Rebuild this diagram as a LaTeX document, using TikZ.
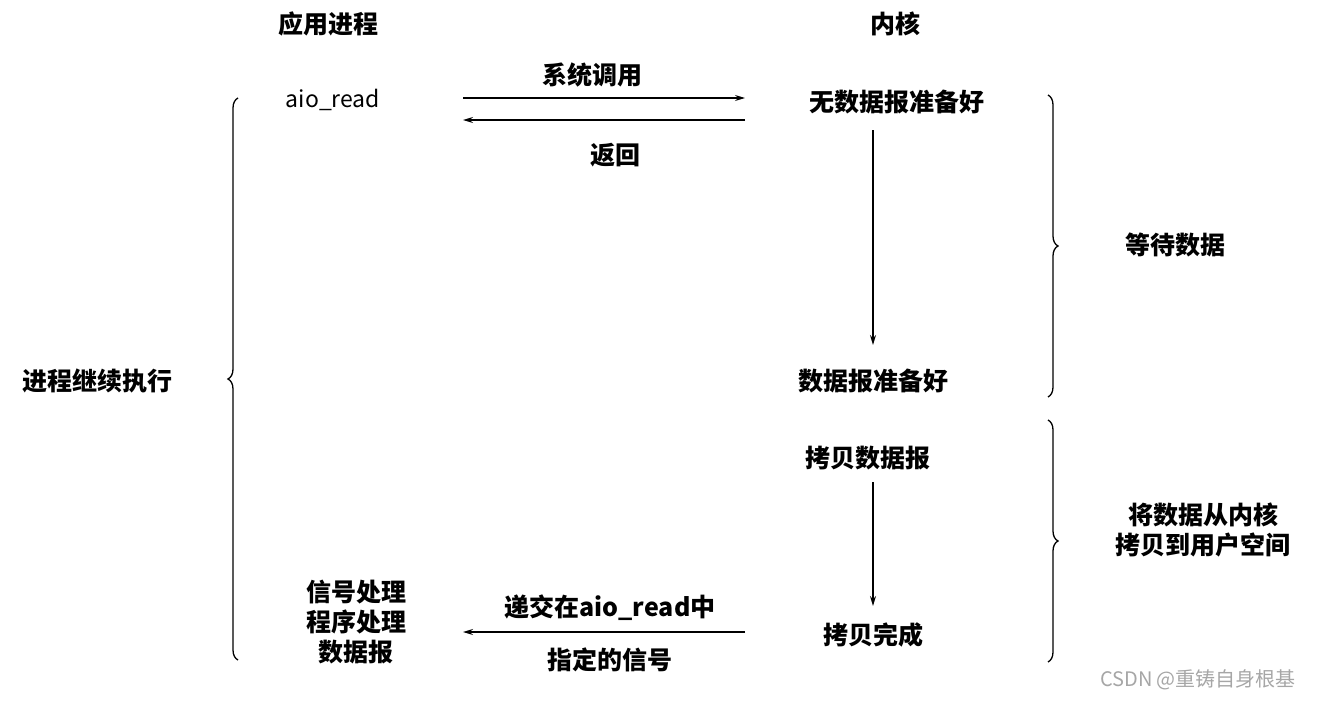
\documentclass[tikz,border=0pt]{standalone}
\usepackage{fontspec}
\setmainfont{Noto Sans CJK SC}
\usetikzlibrary{decorations.pathreplacing,arrows.meta}
\begin{document}
\begin{tikzpicture}[x=1pt,y=-1pt,
  txt/.style={font=\fontsize{25}{30}\selectfont\bfseries,inner sep=0pt,align=center},
  hd/.style={font=\fontsize{25}{30}\selectfont\bfseries,inner sep=0pt},
  arr/.style={-{Stealth[length=10pt,width=6pt]},line width=1.3pt},
  br/.style={decorate,decoration={brace,amplitude=10pt},line width=1.3pt}]
\useasboundingbox (0,0) rectangle (1326,701);
\node[hd] (h1) at (328,24) {应用进程};
\node[hd] (h2) at (895,24) {内核};
\node[txt,font=\fontsize{23}{28}\selectfont] (aio) at (333,100) {aio\_read};
\coordinate (c1) at (463,98); \coordinate (c2) at (745,98);
\coordinate (c3) at (745,120); \coordinate (c4) at (463,120);
\draw[arr] (c1) -- (c2);
\draw[arr] (c3) -- (c4);
\node[txt] (l1) at (592,75) {系统调用};
\node[txt] (l2) at (615,155) {返回};
\node[txt] (k1) at (897,102) {无数据报准备好};
\node[txt] (k2) at (873,381) {数据报准备好};
\draw[arr] (873,130) -- (873,345);
\node[txt] (k3) at (868,458) {拷贝数据报};
\node[txt] (k4) at (873,635) {拷贝完成};
\draw[arr] (873,482) -- (873,606);
\node[txt] (sig) at (356,622) {信号处理\\程序处理\\数据报};
\coordinate (c5) at (745,632); \coordinate (c6) at (463,632);
\draw[arr] (c5) -- (c6);
\node[txt] (l3) at (610,608) {递交在aio\_read中};
\node[txt] (l4) at (610,660) {指定的信号};
\draw[br] (238,660) -- (238,98);
\node[txt] (p) at (98,381) {进程继续执行};
\draw[br] (1048,95) -- (1048,397);
\node[txt] (w) at (1175,245) {等待数据};
\draw[br] (1048,420) -- (1048,662);
\node[txt] (cp) at (1203,530) {将数据从内核\\拷贝到用户空间};
\node[inner sep=0pt,text=gray!70,font=\fontsize{20}{24}\selectfont] (wm) at (1198,680) {CSDN @重铸自身根基};
\end{tikzpicture}
\end{document}
